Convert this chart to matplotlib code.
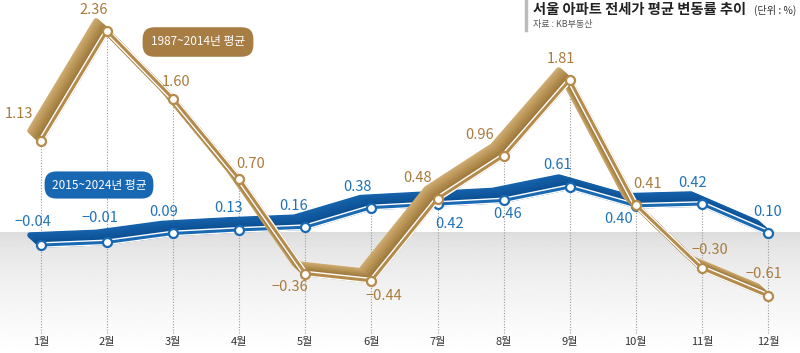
import numpy as np
import matplotlib
matplotlib.use('Agg')
import matplotlib.pyplot as plt
from matplotlib.transforms import ScaledTranslation
from matplotlib.colors import to_rgb

plt.rcParams['font.family'] = ['Noto Sans CJK KR', 'DejaVu Sans']

# 데이터 (단위 : %)
months = ['1월', '2월', '3월', '4월', '5월', '6월', '7월', '8월', '9월', '10월', '11월', '12월']
old_avg = [1.13, 2.36, 1.60, 0.70, -0.36, -0.44, 0.48, 0.96, 1.81, 0.41, -0.30, -0.61]   # 1987~2014년 평균
new_avg = [-0.04, -0.01, 0.09, 0.13, 0.16, 0.38, 0.42, 0.46, 0.61, 0.40, 0.42, 0.10]     # 2015~2024년 평균
old_name = '1987~2014년 평균'
new_name = '2015~2024년 평균'

# 라벨 위치 오프셋 (픽셀)
old_off = [(-22, 27), (-13, 21), (3, 17), (11, 15), (-16, -13), (12, -15),
           (-20, 21), (-24, 21), (-9, 21), (12, 21), (8, 18), (-4, 22)]
new_off = [(-8, 23), (-7, 24), (-10, 21), (-11, 22), (-12, 21), (-14, 21),
           (12, -20), (4, -14), (-12, 22), (-17, -13), (-9, 21), (0, 21)]

GOLD = '#b58b4c'
GOLD_TXT = '#a97b3c'
BLUE = '#1a69b3'
BLUE_TXT = '#1f72b8'

fig = plt.figure(figsize=(8, 3.53), dpi=100)
ax = fig.add_axes([0, 0, 1, 1])
ax.set_xlim(0.38, 12.484)
ax.set_ylim(-1.25, 2.707)
ax.axis('off')

x = np.arange(1, 13)

# 회색 그라데이션 바닥
grad = np.linspace(0, 1, 200) ** 0.6
grad = 0.86 + 0.14 * grad
ax.imshow(grad.reshape(-1, 1), cmap='gray', vmin=0, vmax=1, aspect='auto',
          extent=[0, 1, 0.0, 0.34], transform=ax.transAxes, zorder=0)

# 점선 세로선
tops = np.maximum(old_avg, new_avg)
ax.vlines(x, -1.03, tops, colors='#9a9a9a', linestyles=(0, (1, 1.5)), lw=0.8, zorder=1)

for xi, m in zip(x, months):
    ax.text(xi, 0.031, m, transform=ax.get_xaxis_transform(), ha='center', va='center',
            fontsize=8, color='#333333')


def blend(c1, c2, t):
    a, b = np.array(to_rgb(c1)), np.array(to_rgb(c2))
    return a * (1 - t) + b * t


def ribbon(vals, c_front, c_back, c_line, z, dx=-11, dy=10, n=18):
    # 입체 리본: 선을 조금씩 옮겨 그려서 띠를 만든다
    for t in np.linspace(1, 0, n):
        off = ScaledTranslation(dx * t / 100, dy * t / 100, fig.dpi_scale_trans)
        ax.plot(x, vals, color=blend(c_front, c_back, t), lw=4,
                solid_capstyle='round', solid_joinstyle='round',
                transform=ax.transData + off, zorder=z)
    ax.plot(x, vals, color='white', lw=4.2, solid_capstyle='round',
            solid_joinstyle='round', zorder=z + 0.1)
    ax.plot(x, vals, color=c_line, lw=2.2, solid_capstyle='round',
            solid_joinstyle='round', zorder=z + 0.2)
    ax.plot(x, vals, 'o', ms=6.5, mfc='white', mec=c_line, mew=1.6, zorder=z + 0.3)


ribbon(new_avg, '#0b4f92', '#1663ad', BLUE, 3)
ribbon(old_avg, '#9c7638', '#cfac70', GOLD, 5)


def fmt(v):
    return f'{v:.2f}'.replace('-', '−')


for xi, v, (ox, oy) in zip(x, new_avg, new_off):
    ax.annotate(fmt(v), (xi, v), xytext=(ox, oy), textcoords='offset pixels',
                ha='center', va='center', fontsize=10.5, fontweight='medium',
                color=BLUE_TXT, zorder=8)
for xi, v, (ox, oy) in zip(x, old_avg, old_off):
    ax.annotate(fmt(v), (xi, v), xytext=(ox, oy), textcoords='offset pixels',
                ha='center', va='center', fontsize=10.5, fontweight='medium',
                color=GOLD_TXT, zorder=8)

# 범례 알약
ax.text(198 / 800, 1 - 42 / 353, old_name, transform=ax.transAxes, ha='center', va='center',
        fontsize=8.5, color='white', zorder=9,
        bbox=dict(boxstyle='round,pad=0.7,rounding_size=1.0', fc='#a87d43', ec='none'))
ax.text(99 / 800, 1 - 185 / 353, new_name, transform=ax.transAxes, ha='center', va='center',
        fontsize=8.5, color='white', zorder=9,
        bbox=dict(boxstyle='round,pad=0.6,rounding_size=1.0', fc='#1767b3', ec='none'))

# 제목
fig.add_artist(plt.Line2D([526 / 800, 526 / 800], [1, 1 - 30 / 353], color='#bbbbbb', lw=2.5))
fig.text(533 / 800, 1 - 10 / 353, '서울 아파트 전세가 평균 변동률 추이', ha='left', va='center',
         fontsize=10.3, fontweight='bold', color='#222222')
fig.text(754 / 800, 1 - 10 / 353, '(단위 : %)', ha='left', va='center', fontsize=7.3, color='#333333')
fig.text(533 / 800, 1 - 25 / 353, '자료 : KB부동산', ha='left', va='center', fontsize=6.5, color='#555555')

fig.savefig('out.png', dpi=100)
